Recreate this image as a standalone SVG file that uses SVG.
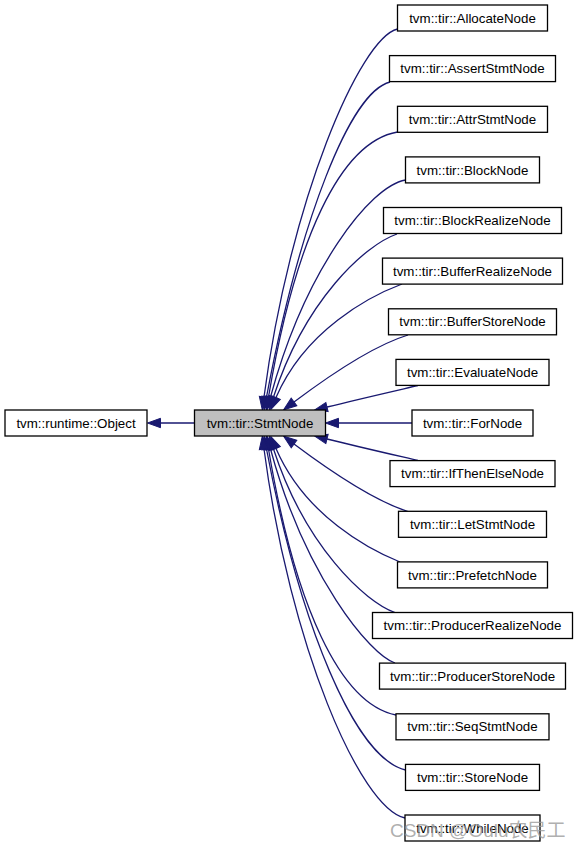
<svg xmlns="http://www.w3.org/2000/svg" width="577" height="848" viewBox="0 0 577 848">
<style>
.n rect{fill:#fff;stroke:#000;stroke-width:1.3}
.n.g rect{fill:#bfbfbf}
.n text{font-family:"Liberation Sans",Arial,sans-serif;font-size:13.33px;text-anchor:middle;fill:#000}
.e path{fill:none;stroke:#191970;stroke-width:1.3;marker-end:url(#arr)}
.wm{font-family:"Liberation Sans","Noto Sans CJK SC",sans-serif;font-size:19px;fill:#9a9a9a;fill-opacity:0.8}
</style>
<defs>
<marker id="arr" viewBox="0 0 14 10" refX="0.5" refY="5" markerWidth="14" markerHeight="10" markerUnits="userSpaceOnUse" orient="auto" overflow="visible">
<path d="M0.5,0.3 L13.5,5 L0.5,9.7 z" fill="#191970" stroke="#191970" stroke-width="1"/>
</marker>
</defs>
<rect width="577" height="848" fill="#fff"/>
<g id="connectors" class="e">
<path d="M194,423 L160.5,423"/>
<path d="M397.5,29 C360,38 290,200 264,397"/>
<path d="M390,82 C350,92 300,220 266.5,397"/>
<path d="M397.5,132 C340,142 295,240 268.5,397"/>
<path d="M405.5,180 C370,186 305,270 270.5,397"/>
<path d="M397,234 C365,245 305,300 273.5,397"/>
<path d="M402,284 C370,296 305,330 276,397.5"/>
<path d="M408,335 C375,345 330,375 294,402"/>
<path d="M418,385.5 C390,392 355,400 327,407"/>
<path d="M412,423 L338.5,423"/>
<path d="M418,460.5 C390,454 355,446 327,439"/>
<path d="M408,511.5 C375,501 330,471 294,444"/>
<path d="M400,562 C370,550 305,516 276,448.5"/>
<path d="M395,612.5 C365,602 305,546 273.5,449"/>
<path d="M395,663 C370,655 305,576 270.5,449"/>
<path d="M396,715 C340,704 295,606 268.5,449"/>
<path d="M405.5,770 C355,758 300,626 266.5,449"/>
<path d="M405,818 C360,808 290,646 264,449"/>
</g>
<g id="node-object" class="n"><rect x="5" y="410" width="142" height="26"/><text x="76" y="427.6">tvm::runtime::Object</text></g>
<g id="node-stmtnode" class="n g"><rect x="194.5" y="410" width="131" height="26"/><text x="260" y="427.6">tvm::tir::StmtNode</text></g>
<g id="node-allocate" class="n"><rect x="397.5" y="5" width="150" height="26"/><text x="472.5" y="22.6">tvm::tir::AllocateNode</text></g>
<g id="node-assertstmt" class="n"><rect x="389.5" y="55.6" width="166" height="26"/><text x="472.5" y="73.2">tvm::tir::AssertStmtNode</text></g>
<g id="node-attrstmt" class="n"><rect x="397.5" y="106.3" width="150" height="26"/><text x="472.5" y="123.9">tvm::tir::AttrStmtNode</text></g>
<g id="node-block" class="n"><rect x="405.5" y="156.9" width="134" height="26"/><text x="472.5" y="174.5">tvm::tir::BlockNode</text></g>
<g id="node-blockrealize" class="n"><rect x="383.5" y="207.5" width="178" height="26"/><text x="472.5" y="225.1">tvm::tir::BlockRealizeNode</text></g>
<g id="node-bufferrealize" class="n"><rect x="382.5" y="258.1" width="180" height="26"/><text x="472.5" y="275.7">tvm::tir::BufferRealizeNode</text></g>
<g id="node-bufferstore" class="n"><rect x="388.5" y="308.8" width="168" height="26"/><text x="472.5" y="326.4">tvm::tir::BufferStoreNode</text></g>
<g id="node-evaluate" class="n"><rect x="396" y="359.4" width="153" height="26"/><text x="472.5" y="377">tvm::tir::EvaluateNode</text></g>
<g id="node-for" class="n"><rect x="412" y="410" width="121" height="26"/><text x="472.5" y="427.6">tvm::tir::ForNode</text></g>
<g id="node-ifthenelse" class="n"><rect x="390" y="460.6" width="165" height="26"/><text x="472.5" y="478.2">tvm::tir::IfThenElseNode</text></g>
<g id="node-letstmt" class="n"><rect x="398.5" y="511.3" width="148" height="26"/><text x="472.5" y="528.9">tvm::tir::LetStmtNode</text></g>
<g id="node-prefetch" class="n"><rect x="397.5" y="561.9" width="150" height="26"/><text x="472.5" y="579.5">tvm::tir::PrefetchNode</text></g>
<g id="node-producerrealize" class="n"><rect x="372.5" y="612.5" width="200" height="26"/><text x="472.5" y="630.1">tvm::tir::ProducerRealizeNode</text></g>
<g id="node-producerstore" class="n"><rect x="379.5" y="663.1" width="186" height="26"/><text x="472.5" y="680.7">tvm::tir::ProducerStoreNode</text></g>
<g id="node-seqstmt" class="n"><rect x="396" y="713.8" width="153" height="26"/><text x="472.5" y="731.4">tvm::tir::SeqStmtNode</text></g>
<g id="node-store" class="n"><rect x="405.5" y="764.4" width="134" height="26"/><text x="472.5" y="782">tvm::tir::StoreNode</text></g>
<g id="node-while" class="n"><rect x="405" y="815" width="135" height="26"/><text x="472.5" y="832.6">tvm::tir::WhileNode</text></g>
<text class="wm" x="390" y="837">CSDN @Oulu农民工</text>
</svg>
